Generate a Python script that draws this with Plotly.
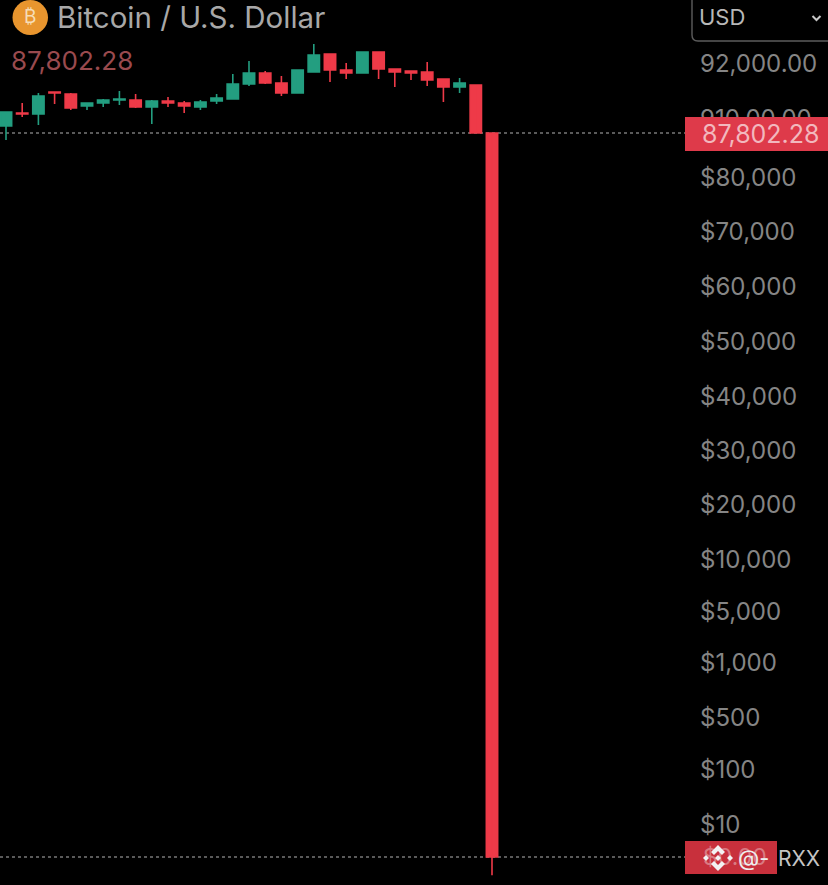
import numpy as np
import plotly.graph_objects as go

W, H = 828, 885

# Candles (USD)
opens = [89294, 91091, 91072, 91472, 91436, 91218, 91272, 91327, 91327, 91200, 91309, 91272, 91200, 91309, 91345, 91618,
         91818, 91636, 91454, 91836, 92163, 91872, 91818, 92200, 91891, 91854, 91836, 91709, 91563, 91600, 87802.28]
highs = [89294, 91272, 91454, 91472, 91454, 91272, 91345, 91491, 91436, 91327, 91382, 91309, 91327, 91436, 91800, 92036,
         91854, 91763, 91872, 92345, 92163, 92000, 92200, 92200, 91891, 91854, 92018, 91709, 91727, 91600, 87802.28]
lows = [86561, 91018, 89508, 91254, 91145, 91145, 91200, 91236, 91182, 89721, 91200, 91091, 91145, 91254, 91345, 91582,
        91618, 91400, 91454, 91836, 91654, 91709, 91818, 91709, 91563, 91691, 91582, 91291, 91454, 87802.28, -5.5]
closes = [91109, 91072, 91400, 91454, 91182, 91272, 91327, 91345, 91200, 91309, 91272, 91218, 91291, 91363, 91618, 91818,
          91636, 91454, 91872, 92145, 91872, 91818, 92200, 91891, 91836, 91818, 91691, 91563, 91636, 87802.28, 0]
x_index = list(range(len(opens)))

# Price axis: the picture's axis is not linear, so it is a piecewise scale
tick_prices = [92000, 91000, 80000, 70000, 60000, 50000, 40000, 30000, 20000, 10000, 5000, 1000, 500, 100, 10]
tick_labels = ["92,000.00", "910,00.00", "$80,000", "$70,000", "$60,000", "$50,000", "$40,000", "$30,000",
               "$20,000", "$10,000", "$5,000", "$1,000", "$500", "$100", "$10"]
scale_prices = [-10, 0, 10, 100, 500, 1000, 5000, 10000, 20000, 30000, 40000, 50000, 60000, 70000, 80000,
                87802.28, 91000, 92000, 93000]
scale_positions = [890, 857, 824, 769, 717, 662, 611, 559, 504, 450, 396, 341, 286, 231, 177, 133, 118, 63, 8]
last_price = 87802.28
bottom_price = 0
TEXT_DROP = 2.5


def sc(v):
    return np.interp(np.asarray(v, dtype=float), scale_prices, scale_positions)


def px(x):
    return x / W


def py(y):
    return 1 - y / H


def poly(points):
    return "M" + " L".join(f"{px(a):.5f},{py(b):.5f}" for a, b in points) + " Z"


GREEN = "#239E80"
RED = "#EE3A48"
AXIS = "#858585"
FONT = "Inter"

fig = go.Figure()
fig.add_trace(go.Candlestick(
    x=x_index, open=sc(opens), high=sc(highs), low=sc(lows), close=sc(closes),
    increasing=dict(line=dict(color=RED, width=1.6), fillcolor=RED),
    decreasing=dict(line=dict(color=GREEN, width=1.6), fillcolor=GREEN),
    whiskerwidth=0, hoverinfo="skip", showlegend=False,
))
fig.add_trace(go.Scatter(
    x=[(700 - 6) / 16.2] * len(tick_prices), y=sc(tick_prices) + TEXT_DROP, text=tick_labels, mode="text",
    textposition="middle right", textfont=dict(family=FONT, size=24, color=AXIS),
    hoverinfo="skip", showlegend=False,
))
fig.add_trace(go.Scatter(
    x=[(703 - 6) / 16.2], y=sc([bottom_price]) + TEXT_DROP, text=["$0.00"], mode="text",
    textposition="middle right", textfont=dict(family=FONT, size=23, color="#D97A82"),
    hoverinfo="skip", showlegend=False,
))

shapes = []
for price in (last_price, bottom_price):
    shapes.append(dict(type="line", xref="paper", yref="y", x0=0, x1=px(685), y0=float(sc(price)), y1=float(sc(price)),
                       line=dict(color="#787878", width=1.5, dash="dot"), layer="below"))
# price tags
shapes.append(dict(type="rect", xref="paper", yref="paper", x0=px(685), x1=px(828), y0=py(117), y1=py(151),
                   fillcolor="#DE3A4A", line=dict(width=0), layer="above"))
shapes.append(dict(type="rect", xref="paper", yref="paper", x0=px(685), x1=px(777), y0=py(841), y1=py(874),
                   fillcolor="#C8303C", line=dict(width=0), layer="below"))
# currency selector
shapes.append(dict(type="path", xref="paper", yref="paper",
                   path=f"M{px(692)},{py(-3)} L{px(692)},{py(35)} Q{px(692)},{py(41)} {px(698)},{py(41)} L{px(835)},{py(41)}",
                   line=dict(color="#5c5c5c", width=1.4), layer="above"))
shapes.append(dict(type="path", xref="paper", yref="paper",
                   path=f"M{px(812.5)},{py(16)} L{px(816.5)},{py(20)} L{px(820.5)},{py(16)}",
                   line=dict(color="#c8c8c8", width=2), layer="above"))
# coin
shapes.append(dict(type="circle", xref="paper", yref="paper", x0=px(12.5), x1=px(48), y0=py(0), y1=py(35),
                   fillcolor="#E8952E", line=dict(width=0), layer="above"))
# exchange mark
cx, cy = 718, 858
for pts in (
    [(cx, cy - 13), (cx + 7, cy - 6), (cx + 4, cy - 3), (cx, cy - 7), (cx - 4, cy - 3), (cx - 7, cy - 6)],
    [(cx, cy + 13), (cx + 7, cy + 6), (cx + 4, cy + 3), (cx, cy + 7), (cx - 4, cy + 3), (cx - 7, cy + 6)],
    [(cx, cy - 3), (cx + 3, cy), (cx, cy + 3), (cx - 3, cy)],
    [(cx - 12, cy - 3), (cx - 9, cy), (cx - 12, cy + 3), (cx - 15, cy)],
    [(cx + 12, cy - 3), (cx + 15, cy), (cx + 12, cy + 3), (cx + 9, cy)],
):
    shapes.append(dict(type="path", xref="paper", yref="paper", path=poly(pts),
                       fillcolor="#f2f2f2", line=dict(width=0), layer="above"))


def note(text, x, y, size, color, anchor="left"):
    return dict(text=text, xref="paper", yref="paper", x=px(x), y=py(y), xanchor=anchor, yanchor="middle",
                showarrow=False, font=dict(family=FONT, size=size, color=color), borderpad=0, borderwidth=0)


annotations = [
    note("Bitcoin / U.S. Dollar", 57, 17, 29.5, "#a8a8a8"),
    note("87,802.28", 11, 61, 26, "#9A4A4E"),
    note("USD", 699, 17, 22, "#b8b8b8"),
    note("₿", 30, 17, 19, "#F6DDB8", "center"),
    note("87,802.28", 702, 134, 25, "#F2B8BE"),
    note("@-", 738, 858, 22, "#eeeeee"),
    note("RXX", 778, 858, 21, "#c4c4c4"),
]

fig.update_layout(
    width=W, height=H, margin=dict(l=0, r=0, t=0, b=0),
    paper_bgcolor="#000000", plot_bgcolor="#000000",
    boxgap=0.3, boxgroupgap=0, showlegend=False, shapes=shapes, annotations=annotations,
    xaxis=dict(range=[-6 / 16.2, (W - 6) / 16.2], visible=False, rangeslider=dict(visible=False), fixedrange=True),
    yaxis=dict(range=[H, 0], visible=False, fixedrange=True),
)
fig.write_html("out.html", config=dict(displayModeBar=False),
               post_script="document.body.style.margin='0';document.body.style.background='#000';")
